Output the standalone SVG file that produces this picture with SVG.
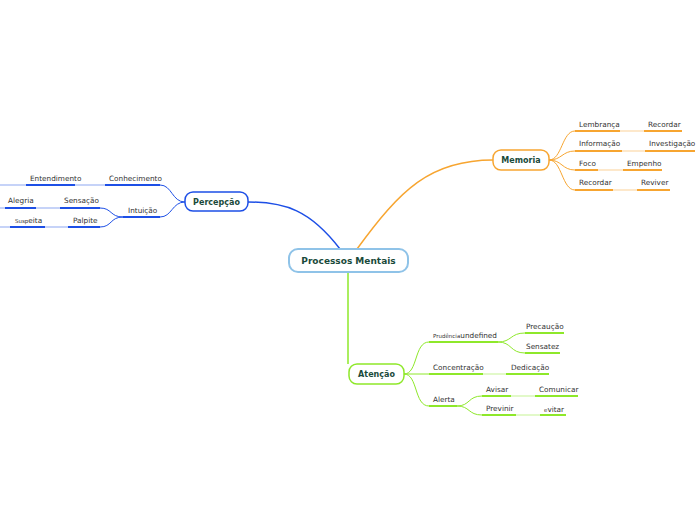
<svg xmlns="http://www.w3.org/2000/svg" width="697" height="520" viewBox="0 0 697 520">
<style>
text{font-family:Verdana,"DejaVu Sans",sans-serif;font-size:7.3px;fill:#333}
.n{font-weight:bold;fill:#1a4a3a;font-size:8px;text-anchor:middle}
.b{stroke:#1d4fe6;fill:none}
.o{stroke:#f7a530;fill:none}
.g{stroke:#8ee82a;fill:none}
.u{stroke-width:2}
.t{stroke-width:1;opacity:.5}
</style>
<rect width="697" height="520" fill="#fff"/>
<g id="connectors">
<path class="b" stroke-width="1.5" d="M340,249 C310,210 285,202 248,202"/>
<path class="o" stroke-width="1.5" d="M357,249 C400,190 430,160 493,160"/>
<path class="g" stroke-width="1.5" d="M348,272 L348,364"/>
<path class="b" d="M185,202 C172,202 172,185 160,185 M185,202 C172,202 172,217 160,217"/>
<path class="b u" d="M105,185 H160 M123,217 H160 M26,185 H75 M60,208 H100 M68,227 H100 M5,208 H36 M10,227 H45"/>
<path class="b t" d="M75,185 H105 M0,185 H26 M36,208 H60 M45,227 H68 M0,208 H5 M0,227 H10"/>
<path class="b" d="M123,217 C110,217 112,208 100,208 M123,217 C110,217 112,227 100,227"/>
<path class="o" d="M549,160 C562,160 562,131 575,131 M549,160 C562,160 562,151 575,151 M549,160 C562,160 562,170 575,170 M549,160 C562,160 562,190 575,190"/>
<path class="o u" d="M575,131 H620 M644,131 H682 M575,151 H622 M645,151 H695 M575,170 H598 M623,170 H662 M575,190 H613 M637,190 H670"/>
<path class="o t" d="M620,131 H644 M622,151 H645 M598,170 H623 M613,190 H637"/>
<path class="g" d="M404,374 C418,374 414,342 429,342 M404,374 H429 M404,374 C418,374 414,406 429,406"/>
<path class="g u" d="M429,342 H498 M429,374 H483 M429,406 H457 M525,333 H564 M525,353 H560 M506,374 H549 M482,396 H511 M482,415 H516 M535,396 H578 M540,415 H566"/>
<path class="g t" d="M483,374 H506 M511,396 H535 M516,415 H540"/>
<path class="g" d="M498,342 C512,342 510,333 525,333 M498,342 C512,342 510,353 525,353 M457,406 C470,406 468,396 482,396 M457,406 C470,406 468,415 482,415"/>
</g>
<g id="central"><rect x="289" y="249" width="119" height="23" rx="9" fill="#fff" stroke="#8fc3e8" stroke-width="2"/><text class="n" x="348.5" y="264" style="font-size:9px">Processos Mentais</text></g>
<g id="percepcao"><rect x="185" y="192" width="63" height="19" rx="8" fill="#fff" stroke="#1d4fe6" stroke-width="1.5"/><text class="n" x="216.5" y="204.5">Percepção</text></g>
<g id="memoria"><rect x="493" y="150" width="56" height="20" rx="8" fill="#fff" stroke="#f7a530" stroke-width="1.5"/><text class="n" x="521" y="163">Memoria</text></g>
<g id="atencao"><rect x="349" y="364" width="55" height="20" rx="8" fill="#fff" stroke="#8ee82a" stroke-width="1.5"/><text class="n" x="376.5" y="377">Atenção</text></g>
<g id="labels">
<text x="109" y="181">Conhecimento</text><text x="30" y="181">Entendimento</text>
<text x="128" y="213">Intuição</text><text x="64" y="203">Sensação</text><text x="8" y="203">Alegria</text>
<text x="73" y="223">Palpite</text><text x="15" y="223"><tspan style="font-size:5.5px">Susp</tspan>eita</text>
<text x="579" y="127">Lembrança</text><text x="648" y="127">Recordar</text>
<text x="579" y="146">Informação</text><text x="649" y="146">Investigação</text>
<text x="579" y="166">Foco</text><text x="627" y="166">Empenho</text>
<text x="579" y="185">Recordar</text><text x="641" y="185">Reviver</text>
<text x="433" y="338"><tspan style="font-size:5.5px">Prudência</tspan>undefined</text>
<text x="526" y="329">Precaução</text><text x="526" y="349">Sensatez</text>
<text x="433" y="370">Concentração</text><text x="511" y="370">Dedicação</text>
<text x="433" y="402">Alerta</text><text x="486" y="392">Avisar</text><text x="539" y="392">Comunicar</text>
<text x="486" y="411">Previnir</text><text x="544" y="412"><tspan style="font-size:5.5px">e</tspan>vitar</text>
</g>
</svg>
